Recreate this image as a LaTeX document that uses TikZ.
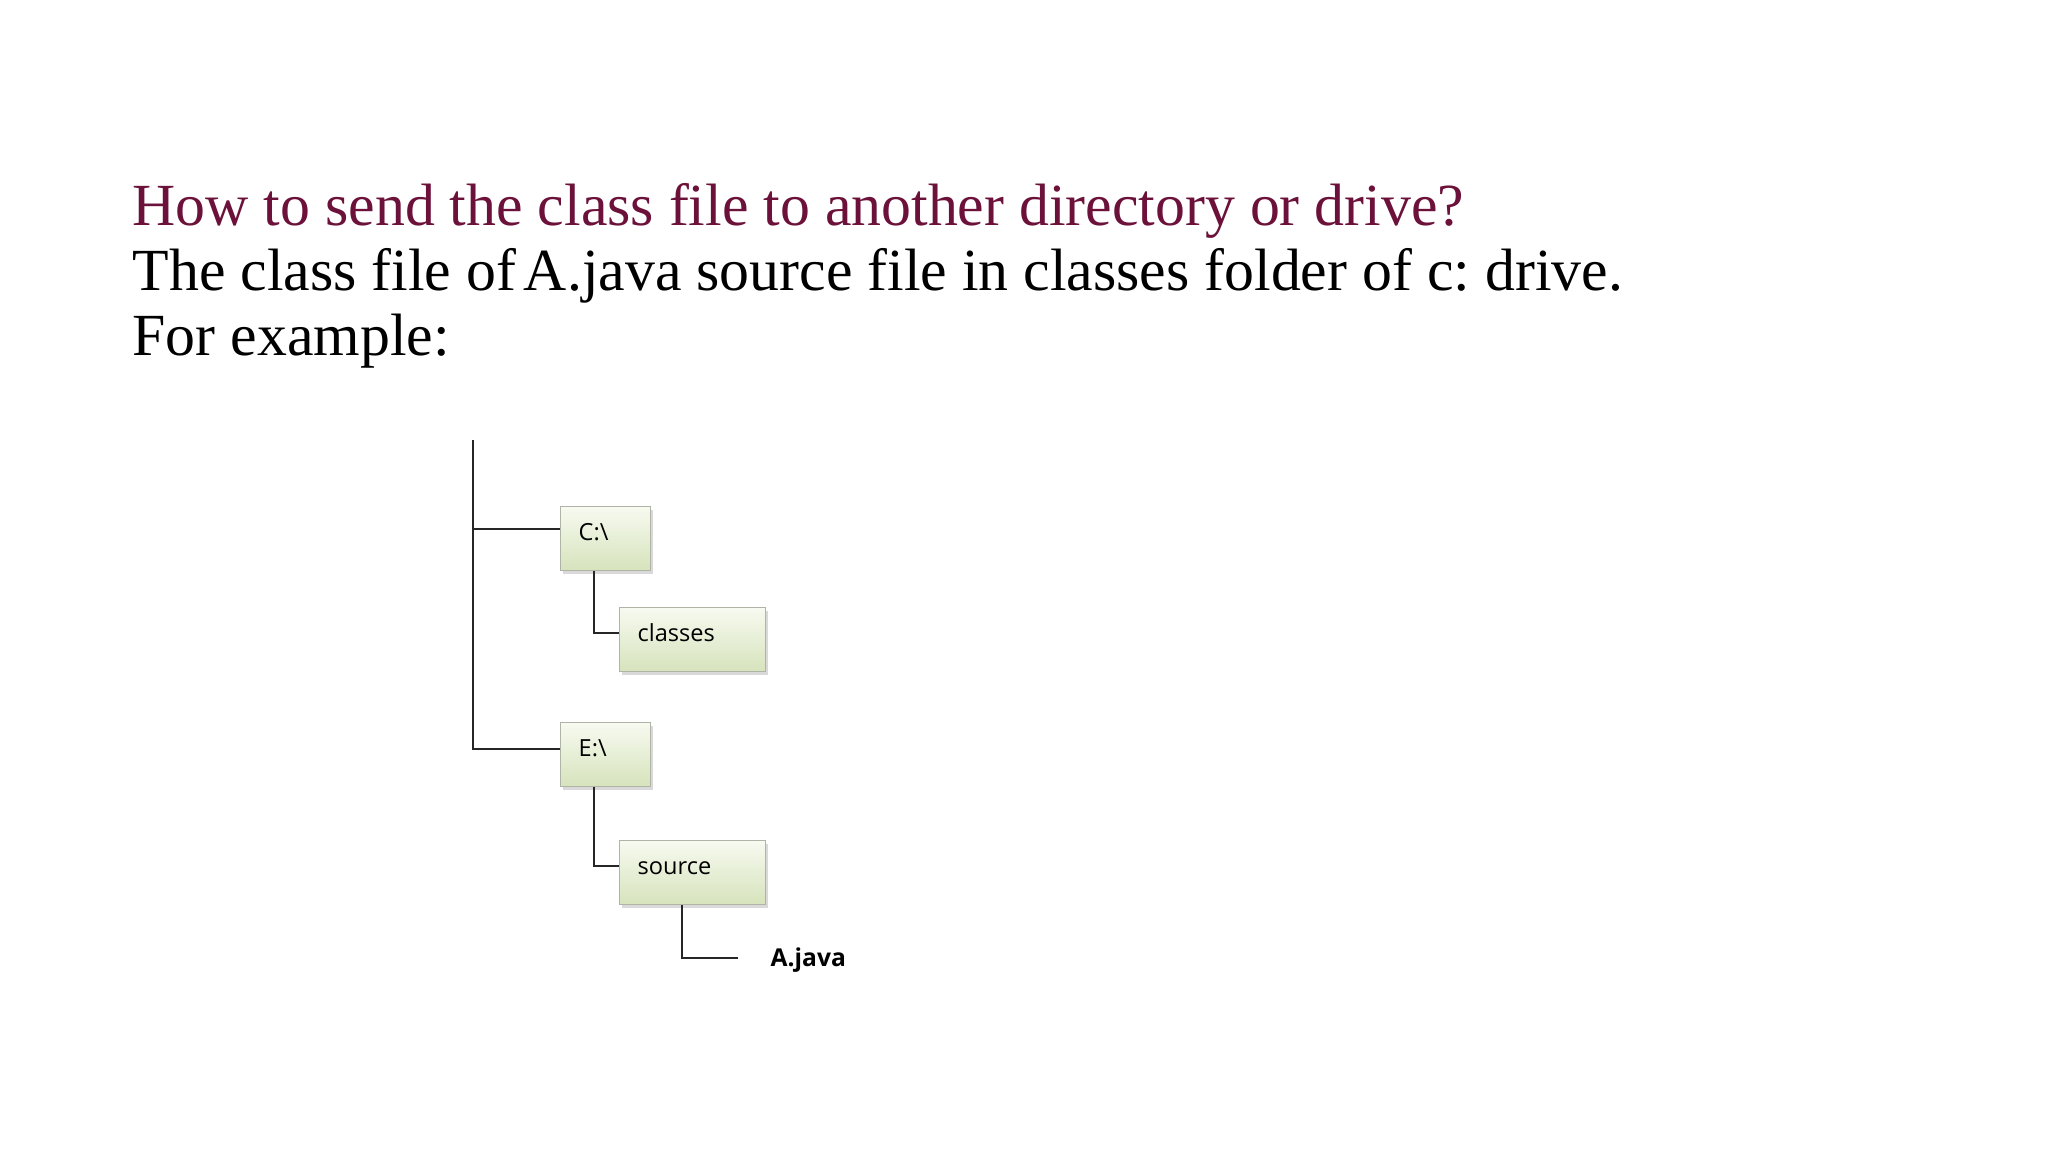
\documentclass[tikz,border=0pt]{standalone}
\usepackage{fontspec}
\setmainfont{Liberation Serif}
\newfontfamily\boxfont{Open Sans}
\usetikzlibrary{shadows}
\definecolor{titlered}{RGB}{108,18,58}
\definecolor{boxtop}{RGB}{247,250,240}
\definecolor{boxbottom}{RGB}{214,227,188}
\definecolor{boxedge}{RGB}{176,180,166}
\frenchspacing

\begin{document}
\begin{tikzpicture}[
        x=0.01cm, y=-0.01cm, % 1 unit = 1 px of the slide
        title/.style = {anchor=base west, inner sep=0, font=\fontsize{17}{20}\selectfont},
        folder/.style = {anchor=north west, draw=boxedge, line width=0.4pt,
                top color=boxtop, bottom color=boxbottom,
                inner xsep=0.18cm, inner ysep=0, text height=0.34cm, text depth=0.30cm,
                align=left, font=\boxfont\fontsize{6.7}{8}\selectfont,
                drop shadow={shadow xshift=0.025cm, shadow yshift=-0.03cm, opacity=0.3}}, % Папки
        link/.style = {draw, line width=0.55pt, black!85},
    ]
    \useasboundingbox (0,0) rectangle (2048,1152);

    \node[title, text=titlered] (question) at (132,226) {How to send the class file to another directory or drive?};
    \node[title] (answer) at (132,291) {The class file of\hspace{-0.12em} A.java source file in classes folder of c: drive.};
    \node[title] (example) at (132,356) {For example:};

    % Дерево каталогов
    \coordinate (root) at (473,440);
    \node[folder, text width=0.54cm] (cdrive) at (560,506) {C:\textbackslash};
    \node[folder, text width=1.10cm] (classes) at (619,607) {classes};
    \node[folder, text width=0.54cm] (edrive) at (560,722) {E:\textbackslash};
    \node[folder, text width=1.10cm] (source) at (619,840) {source};
    \node[anchor=base west, inner sep=0, font=\boxfont\bfseries\fontsize{7}{8}\selectfont] (ajava) at (770,966) {A.java};
    \coordinate (cjoin) at ([yshift=0.12cm]cdrive.base west);

    \draw[link] (root) |- ([yshift=0.08cm]edrive.base west);
    \draw[link] (root |- cjoin) -- (cjoin);
    \draw[link] ([xshift=0.34cm]cdrive.south west) |- ([yshift=0.09cm]classes.base west);
    \draw[link] ([xshift=0.34cm]edrive.south west) |- ([yshift=0.09cm]source.base west);
    \draw[link] ([xshift=0.63cm]source.south west) |- ([xshift=-0.32cm, yshift=0.08cm]ajava.base west);
\end{tikzpicture}
\end{document}
